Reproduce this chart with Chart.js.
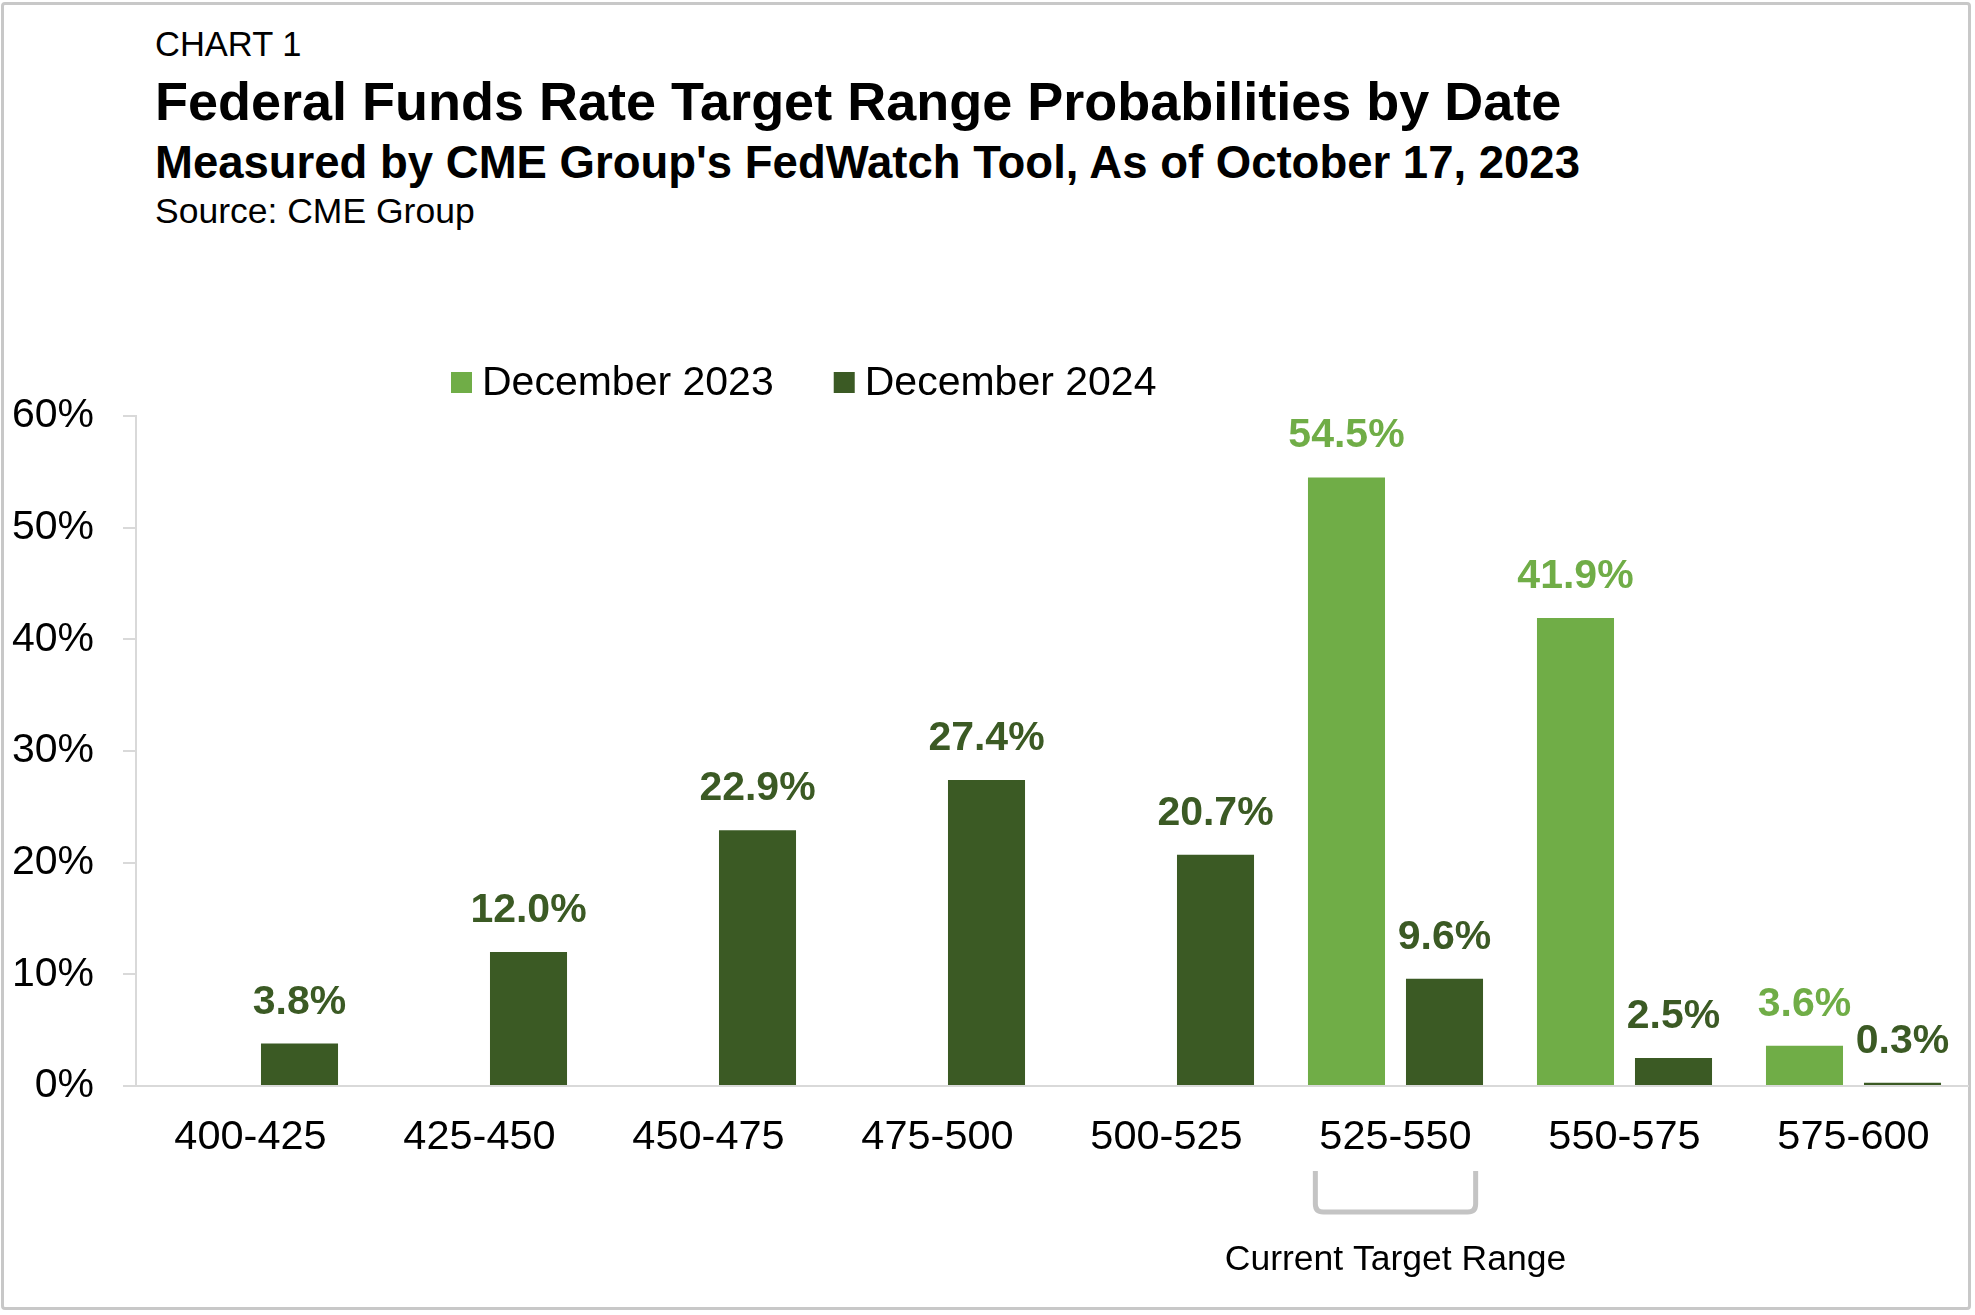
<!DOCTYPE html>
<html>
<head>
<meta charset="utf-8">
<title>Federal Funds Rate Target Range Probabilities by Date</title>
<script src="https://cdn.jsdelivr.net/npm/chart.js@4.4.0/dist/chart.umd.min.js"></script>
<style>
  html, body { margin: 0; padding: 0; background: #fff; }
  body {
    width: 1975px; height: 1315px; position: relative; overflow: hidden;
    font-family: "Liberation Sans", Arial, sans-serif; color: #000;
  }
  #frame {
    position: absolute; left: 1px; top: 2px; width: 1964px; height: 1302px;
    border: 3px solid #c8c8c8; border-radius: 4px;
  }
  .t { position: absolute; left: 155px; white-space: nowrap; line-height: 1; }
  #kicker { top: 27px; font-size: 34.5px; }
  #title { top: 74px; font-size: 54px; font-weight: bold; }
  #subtitle { top: 140px; font-size: 45.5px; font-weight: bold; }
  #source { top: 194px; font-size: 35.5px; }
  #wrap { position: absolute; left: 0; top: 0; width: 1975px; height: 1315px; }
</style>
</head>
<body>
<div id="frame"></div>
<div class="t" id="kicker">CHART 1</div>
<div class="t" id="title">Federal Funds Rate Target Range Probabilities by Date</div>
<div class="t" id="subtitle">Measured by CME Group's FedWatch Tool, As of October 17, 2023</div>
<div class="t" id="source">Source: CME Group</div>
<div id="wrap"><canvas id="chart" width="1975" height="1315"></canvas></div>

<script>
// data
const categories = ['400-425', '425-450', '450-475', '475-500', '500-525', '525-550', '550-575', '575-600'];
const dec2023 = [0, 0, 0, 0, 0, 54.5, 41.9, 3.6];
const dec2024 = [3.8, 12.0, 22.9, 27.4, 20.7, 9.6, 2.5, 0.3];
const seriesNames = ['December 2023', 'December 2024'];
const yTicks = [0, 10, 20, 30, 40, 50, 60];
const currentRange = '525-550';
const currentRangeLabel = 'Current Target Range';

const lightGreen = '#70ad47';
const darkGreen = '#3b5a24';
const axisGrey = '#d9d9d9';
const FONT = '"Liberation Sans", Arial, sans-serif';

// value labels above the bars (zero values left blank)
const valueLabels = {
  id: 'valueLabels',
  afterDatasetsDraw(chart) {
    const ctx = chart.ctx;
    ctx.save();
    ctx.font = 'bold 41px ' + FONT;
    ctx.textAlign = 'center';
    ctx.textBaseline = 'alphabetic';
    chart.data.datasets.forEach((ds, i) => {
      const meta = chart.getDatasetMeta(i);
      meta.data.forEach((bar, j) => {
        const v = ds.data[j];
        if (!v) return;
        ctx.fillStyle = ds.backgroundColor;
        ctx.fillText(v.toFixed(1) + '%', bar.x, bar.y - 30);
      });
    });
    ctx.restore();
  }
};

// legend drawn by hand so it can sit where the original has it
const topLegend = {
  id: 'topLegend',
  afterDraw(chart) {
    const ctx = chart.ctx;
    ctx.save();
    ctx.font = '41px ' + FONT;
    ctx.textBaseline = 'middle';
    let x = 451;
    const y = 383;
    chart.data.datasets.forEach(ds => {
      ctx.fillStyle = ds.backgroundColor;
      ctx.fillRect(x, y - 11, 21, 21);
      ctx.fillStyle = '#000';
      ctx.fillText(ds.label, x + 31, y + 1);
      x += 31 + ctx.measureText(ds.label).width + 60;
    });
    ctx.restore();
  }
};

// bracket under the current target range
const rangeBracket = {
  id: 'rangeBracket',
  afterDraw(chart) {
    const xs = chart.scales.x;
    const idx = categories.indexOf(currentRange);
    const cx = xs.getPixelForValue(idx);
    const half = 0.35 * (xs.getPixelForValue(1) - xs.getPixelForValue(0));
    const top = 1171, bottom = 1212, r = 8;
    const ctx = chart.ctx;
    ctx.save();
    ctx.strokeStyle = '#c4c4c4';
    ctx.lineWidth = 5;
    ctx.beginPath();
    ctx.moveTo(cx - half, top);
    ctx.lineTo(cx - half, bottom - r);
    ctx.quadraticCurveTo(cx - half, bottom, cx - half + r, bottom);
    ctx.lineTo(cx + half - r, bottom);
    ctx.quadraticCurveTo(cx + half, bottom, cx + half, bottom - r);
    ctx.lineTo(cx + half, top);
    ctx.stroke();
    ctx.fillStyle = '#000';
    ctx.font = '35.5px ' + FONT;
    ctx.textAlign = 'center';
    ctx.textBaseline = 'middle';
    ctx.fillText(currentRangeLabel, cx, 1260);
    ctx.restore();
  }
};

const chart = new Chart(document.getElementById('chart').getContext('2d'), {
  type: 'bar',
  data: {
    labels: categories,
    datasets: [{
      label: seriesNames[0],
      data: dec2023,
      backgroundColor: lightGreen
    }, {
      label: seriesNames[1],
      data: dec2024,
      backgroundColor: darkGreen
    }]
  },
  options: {
    responsive: false,
    animation: false,
    devicePixelRatio: 1,
    categoryPercentage: 0.856,
    barPercentage: 0.786,
    layout: { padding: { top: 416, right: 7, bottom: 0, left: 0 } },
    plugins: {
      legend: { display: false },
      tooltip: { enabled: false },
      title: { display: false }
    },
    scales: {
      x: {
        grid: { display: false, drawTicks: false, tickLength: 0 },
        border: { display: true, color: axisGrey, width: 2 },
        ticks: { color: '#000', font: { family: FONT, size: 41.5 }, padding: 27, maxRotation: 0 },
        afterFit(s) { s.height = 229; }
      },
      y: {
        min: yTicks[0],
        max: yTicks[yTicks.length - 1],
        afterBuildTicks(s) { s.ticks = yTicks.map(v => ({ value: v })); },
        grid: { display: true, drawOnChartArea: false, drawTicks: true, tickLength: 13, color: axisGrey, lineWidth: 2 },
        border: { display: true, color: axisGrey, width: 2 },
        ticks: {
          color: '#000', font: { family: FONT, size: 41 }, padding: 29,
          callback: v => v + '%'
        },
        afterFit(s) { s.width = 136; }
      }
    }
  },
  plugins: [valueLabels, topLegend, rangeBracket]
});
</script>
</body>
</html>
